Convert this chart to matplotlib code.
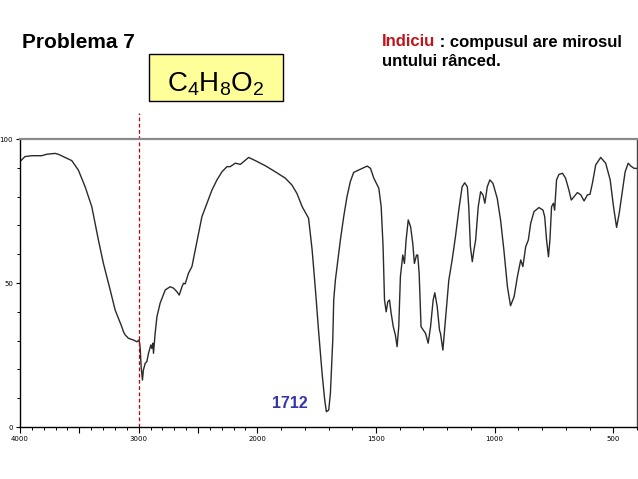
import numpy as np
import matplotlib
matplotlib.use("Agg")
import matplotlib.pyplot as plt
from matplotlib.patches import Rectangle

# ---- data (wavenumber cm-1, % transmittance) ----
wavenumber = [3992, 3958, 3901, 3817, 3775, 3705, 3677, 3620, 3564, 3508, 3451, 3395, 3339, 3297,
              3240, 3198, 3142, 3128, 3114, 3086, 3044, 3015, 2996, 2987, 2979, 2968, 2960, 2945,
              2931, 2917, 2897, 2889, 2880, 2875, 2861, 2846, 2819, 2776, 2734, 2706, 2678, 2658,
              2635, 2622, 2608, 2580, 2551, 2523, 2495, 2467, 2424, 2382, 2340, 2298, 2256, 2228,
              2186, 2143, 2116, 2073, 2017, 1966, 1924, 1882, 1854, 1833, 1811, 1784, 1769, 1755,
              1741, 1727, 1716, 1709, 1699, 1692, 1682, 1678, 1671, 1664, 1650, 1636, 1622, 1608,
              1594, 1565, 1537, 1523, 1509, 1488, 1478, 1470, 1464, 1457, 1450, 1443, 1436, 1427,
              1418, 1411, 1404, 1397, 1387, 1380, 1373, 1364, 1354, 1345, 1338, 1329, 1324, 1318,
              1310, 1301, 1291, 1280, 1270, 1259, 1252, 1242, 1232, 1228, 1218, 1207, 1193, 1179,
              1165, 1151, 1137, 1126, 1115, 1109, 1102, 1094, 1087, 1080, 1069, 1059, 1049, 1041,
              1031, 1020, 1007, 989, 975, 961, 946, 933, 918, 904, 890, 881, 869, 858, 848, 834,
              813, 796, 789, 781, 773, 767, 760, 752, 747, 739, 729, 714, 701, 687, 677, 665, 651,
              637, 623, 609, 598, 588, 574, 553, 532, 513, 499, 486, 475, 461, 450, 437, 426, 412, 400]
transmittance = [92.5, 93.9, 94.2, 94.2, 94.7, 95.0, 94.7, 93.6, 92.5, 89.2, 83.4, 76.5, 64.9, 56.8,
                 47.6, 40.6, 34.8, 33.1, 32.0, 30.8, 30.2, 29.6, 30.2, 27.4, 20.9, 16.3, 19.8, 22.1,
                 22.7, 25.6, 28.5, 27.3, 29.1, 25.6, 32.5, 38.3, 43.0, 47.6, 48.7, 48.2, 47.0, 45.8,
                 48.7, 49.9, 49.7, 53.4, 55.7, 61.5, 67.3, 73.0, 77.7, 82.3, 85.8, 88.6, 90.4, 90.4,
                 91.6, 91.2, 92.1, 93.6, 92.5, 90.7, 88.6, 86.4, 84.0, 81.1, 76.5, 72.5, 61.5, 47.6,
                 32.5, 18.6, 9.4, 5.3, 5.9, 11.7, 30.2, 44.1, 51.0, 55.7, 64.9, 73.0, 80.0, 85.2,
                 88.4, 89.5, 90.6, 89.8, 86.4, 82.9, 76.5, 62.6, 44.1, 40.0, 43.5, 44.1, 39.5, 34.8,
                 31.9, 27.9, 34.8, 52.2, 59.7, 56.8, 64.9, 71.9, 69.5, 63.8, 56.8, 59.7, 59.7, 53.4,
                 34.8, 33.7, 32.5, 29.1, 34.8, 44.1, 46.6, 41.8, 33.5, 32.5, 26.7, 37.2, 51.0, 58.0,
                 66.1, 75.3, 83.4, 84.8, 83.4, 76.5, 62.6, 57.4, 61.5, 64.9, 76.5, 81.7, 80.6, 77.7,
                 83.4, 85.8, 84.6, 79.4, 71.9, 61.5, 48.7, 42.1, 45.2, 52.2, 58.0, 55.7, 62.6, 64.9, 70.7, 74.8,
                 76.2, 75.3, 73.0, 64.9, 59.1, 64.9, 76.5, 77.7, 75.3, 85.8, 87.7, 88.1, 86.4, 82.3, 78.8, 80.0, 81.4,
                 80.6, 78.5, 80.6, 80.8, 84.6, 91.0, 93.6, 91.6, 85.8, 76.5, 69.3, 74.2, 82.3, 88.6, 91.6, 90.6, 89.8, 89.8]

x_major_ticks = [4000, 3500, 3000, 2500, 2000, 1500, 1000, 500]
x_major_labels = ["4000", "", "3000", "", "2000", "1500", "1000", "500"]
y_major_ticks = [0, 50, 100]
y_major_labels = ["0", "50", "100"]
marked_wavenumber = 3000
peak_label = "1712"
peak_wavenumber = 1712

W, H = 638, 479
fig = plt.figure(figsize=(W / 100, H / 100), dpi=100)
fig.patch.set_facecolor("white")

def fx(px):
    return px / W

def fy(py):
    return 1 - py / H

ax = fig.add_axes([fx(20), fy(427), (637 - 20) / W, (427 - 139) / H])

def forward(x):
    x = np.asarray(x, dtype=float)
    return np.where(x >= 2000, x, 2 * x - 2000)

def inverse(u):
    u = np.asarray(u, dtype=float)
    return np.where(u >= 2000, u, (u + 2000) / 2)

ax.set_xscale("function", functions=(forward, inverse))
ax.plot(wavenumber, transmittance, color="#2a2a2a", lw=1.0)
ax.set_xlim(4000, 400)
ax.set_ylim(0, 100)

# dashed marker line (extends above the plot)
ax.plot([marked_wavenumber, marked_wavenumber], [0, 109], color="#C00000",
        lw=0.9, ls=(0, (3, 2)), clip_on=False)

ax.text(peak_wavenumber + 75, 8.3, peak_label, color="#3535A8", fontsize=11.5,
        fontweight="bold", family="Liberation Sans", ha="right", va="center")

ax.set_xticks(x_major_ticks)
ax.set_xticklabels(x_major_labels)
minor_x = [v for v in range(400, 4001, 100) if v not in x_major_ticks]
ax.set_xticks(minor_x, minor=True)
ax.set_yticks(y_major_ticks)
ax.set_yticklabels(y_major_labels)
ax.set_yticks([v for v in range(10, 100, 10) if v not in y_major_ticks], minor=True)

ax.tick_params(axis="x", which="major", direction="out", length=4.5, width=0.8, labelsize=5, pad=2)
ax.tick_params(axis="x", which="minor", direction="out", length=2.5, width=0.7)
ax.tick_params(axis="y", which="major", direction="out", length=3, width=0.8, labelsize=5, pad=2)
ax.tick_params(axis="y", which="minor", direction="out", length=2, width=0.7)

for s in ["left", "bottom"]:
    ax.spines[s].set_color("black")
    ax.spines[s].set_linewidth(1.0)
ax.spines["top"].set_color("#8a8a8a")
ax.spines["top"].set_linewidth(1.6)
ax.spines["right"].set_color("#444444")
ax.spines["right"].set_linewidth(1.0)

# header texts
fig.text(fx(22), fy(42), "Problema 7", fontsize=15, fontweight="bold",
         family="Liberation Sans", ha="left", va="center", color="black")

fig.patches.append(Rectangle((fx(149), fy(101)), (283 - 149) / W, (101 - 54) / H,
                             transform=fig.transFigure, facecolor="#FFFF99",
                             edgecolor="black", lw=1.0))
plt.rcParams["mathtext.fontset"] = "custom"
plt.rcParams["mathtext.rm"] = "Liberation Sans"
fig.text(fx(216), fy(91), r"$\mathregular{C_4H_8O_2}$", fontsize=20,
         family="Liberation Sans", ha="center", va="baseline", color="black")

t1 = fig.text(fx(382), fy(42), "Indiciu", fontsize=12, fontweight="bold",
              family="Liberation Sans", ha="left", va="center", color="#C0141C")
fig.canvas.draw()
ax.annotate(" : compusul are mirosul", xy=(1, 0.5), xycoords=t1, fontsize=12,
            fontweight="bold", family="Liberation Sans", ha="left", va="center",
            color="black", annotation_clip=False)
fig.text(fx(382), fy(62), "untului rânced.", fontsize=12, fontweight="bold",
         family="Liberation Sans", ha="left", va="center", color="black")

fig.savefig("out.png", dpi=100)
